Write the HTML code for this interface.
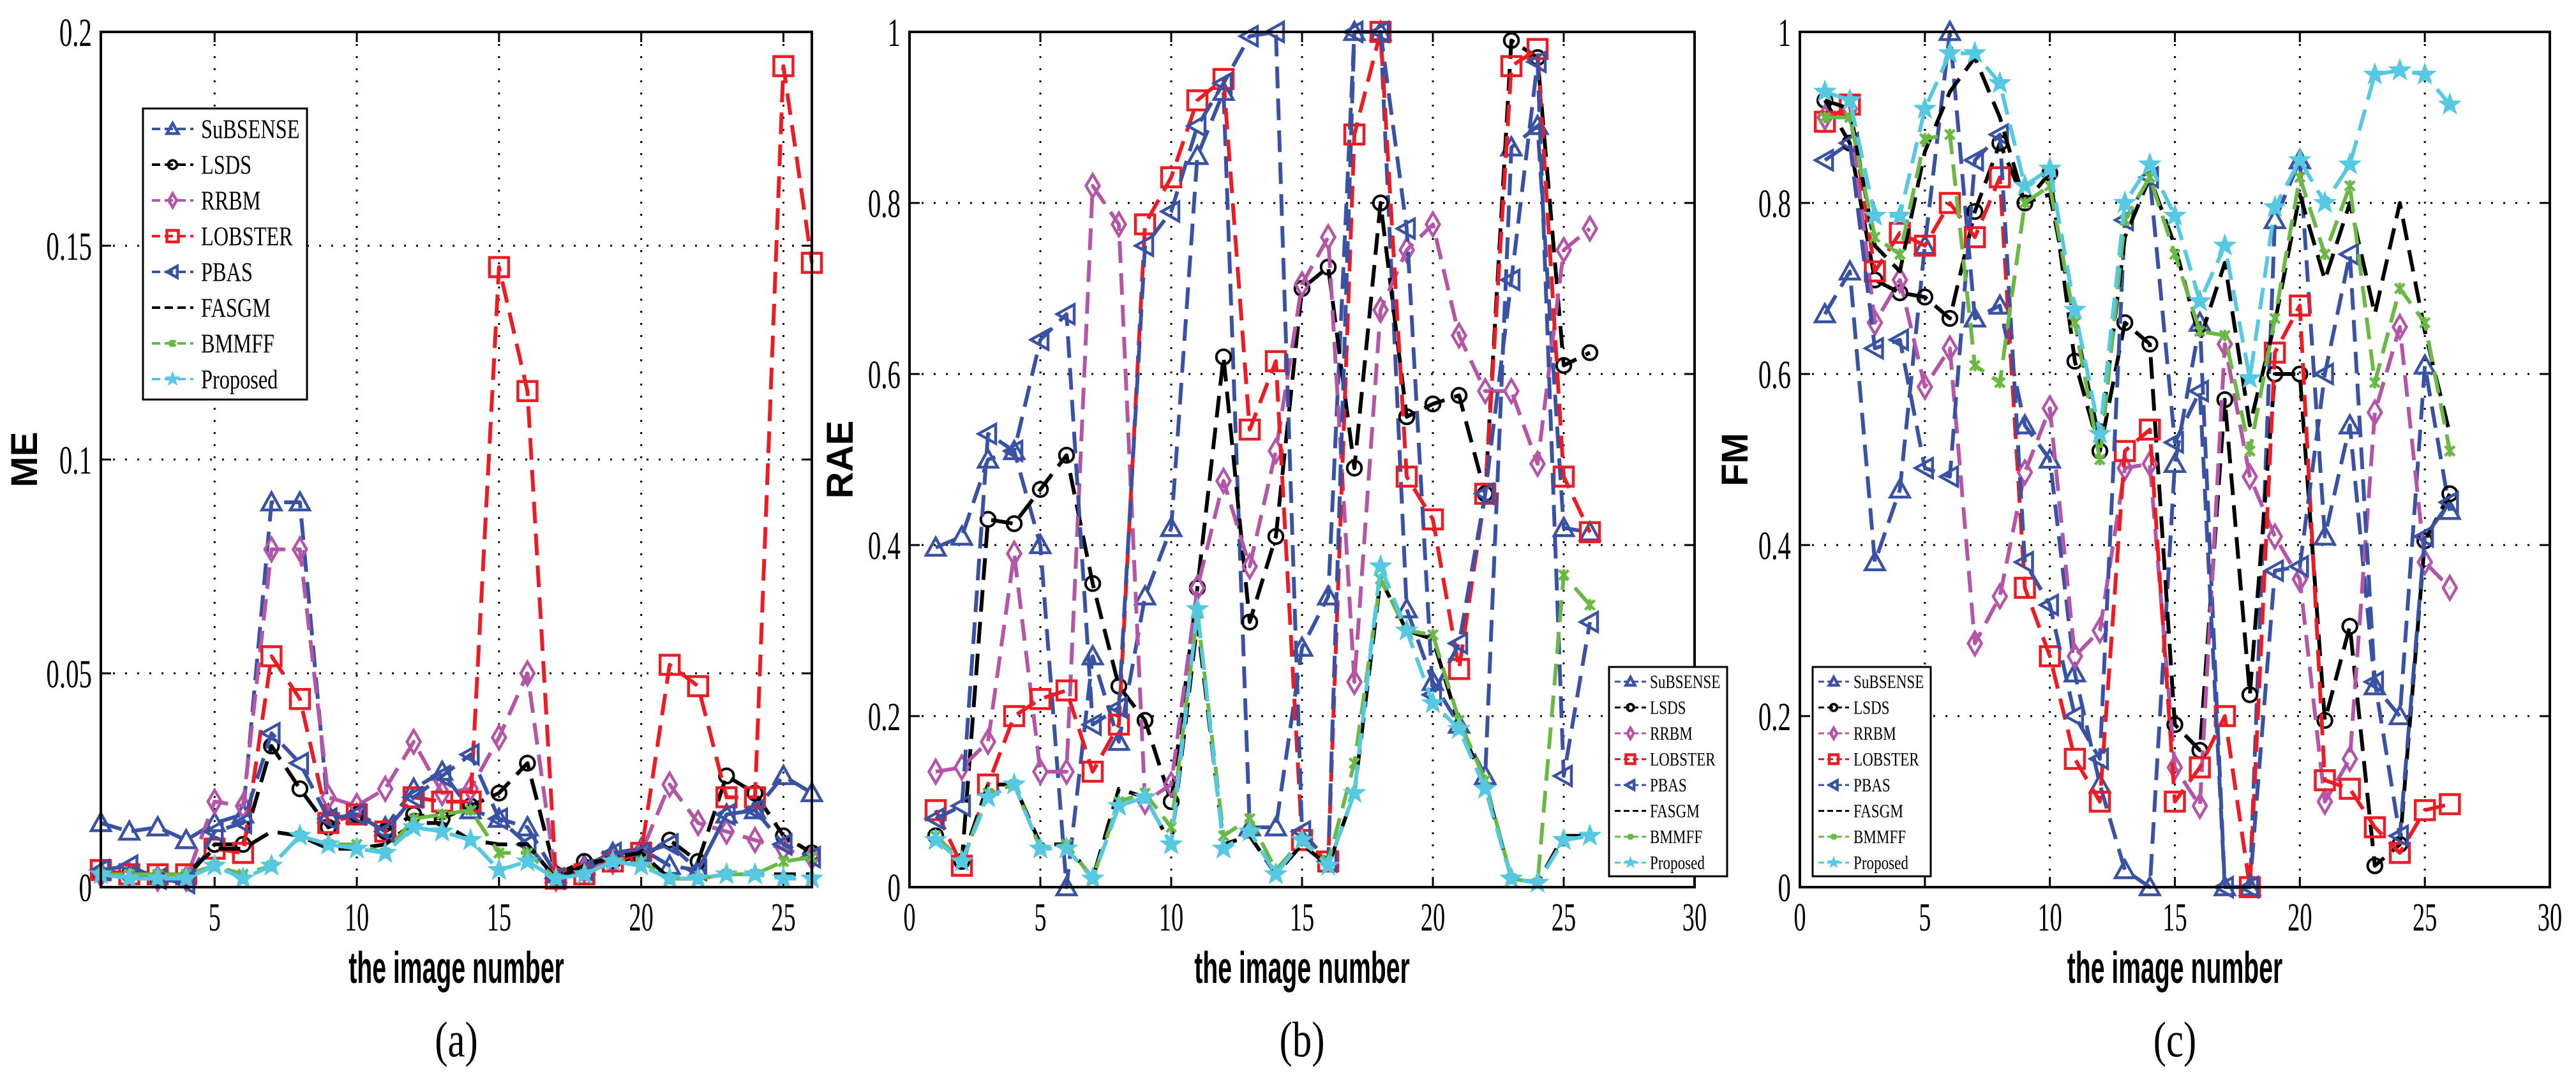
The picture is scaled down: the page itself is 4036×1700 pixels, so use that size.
<!DOCTYPE html>
<html><head><meta charset="utf-8">
<style>
html,body{margin:0;padding:0;background:#fff;}
svg{display:block;}
</style></head>
<body>
<svg id="fig" xmlns="http://www.w3.org/2000/svg" width="4036" height="1700" viewBox="0 0 4036 1700">
<rect x="0" y="0" width="4036" height="1700" fill="#fff"/>
</svg>
<script>
// ---------- data ----------
const imageNumbers = [1,2,3,4,5,6,7,8,9,10,11,12,13,14,15,16,17,18,19,20,21,22,23,24,25,26];
const methodNames = ["SuBSENSE","LSDS","RRBM","LOBSTER","PBAS","FASGM","BMMFF","Proposed"];

// (a) ME
const meSuBSENSE = [0.015,0.013,0.014,0.011,0.015,0.017,0.090,0.090,0.017,0.017,0.014,0.023,0.027,0.018,0.016,0.014,0.003,0.005,0.008,0.009,0.005,0.004,0.017,0.018,0.026,0.022];
const meLSDS     = [0.003,0.003,0.002,0.002,0.010,0.010,0.033,0.023,0.014,0.017,0.013,0.017,0.016,0.019,0.022,0.029,0.003,0.006,0.006,0.007,0.011,0.006,0.026,0.022,0.012,0.008];
const meRRBM     = [0.003,0.003,0.002,0.002,0.020,0.019,0.079,0.079,0.021,0.019,0.023,0.034,0.022,0.023,0.035,0.050,0.002,0.004,0.006,0.008,0.024,0.015,0.013,0.011,0.009,0.007];
const meLOBSTER  = [0.004,0.003,0.003,0.003,0.009,0.008,0.054,0.044,0.015,0.017,0.013,0.021,0.020,0.020,0.145,0.116,0.002,0.003,0.006,0.008,0.052,0.047,0.021,0.021,0.192,0.146];
const mePBAS     = [0.004,0.005,0.002,0.001,0.013,0.015,0.036,0.029,0.016,0.017,0.013,0.021,0.026,0.031,0.016,0.010,0.002,0.004,0.008,0.008,0.010,0.004,0.017,0.018,0.010,0.007];
const meFASGM    = [0.003,0.003,0.003,0.003,0.009,0.009,0.013,0.012,0.009,0.009,0.010,0.015,0.015,0.011,0.010,0.010,0.002,0.005,0.007,0.008,0.002,0.002,0.003,0.003,0.003,0.003];
const meBMMFF    = [0.003,0.003,0.003,0.003,0.005,0.003,0.005,0.012,0.010,0.010,0.008,0.016,0.017,0.018,0.008,0.008,0.002,0.003,0.006,0.006,0.002,0.002,0.003,0.003,0.006,0.007];
const meProposed = [0.003,0.002,0.002,0.002,0.005,0.002,0.005,0.012,0.010,0.009,0.008,0.014,0.013,0.011,0.004,0.006,0.002,0.003,0.006,0.005,0.002,0.002,0.003,0.003,0.002,0.002];

// (b) RAE
const raeSuBSENSE = [0.397,0.41,0.50,0.51,0.40,0.00,0.27,0.17,0.34,0.42,0.855,0.93,0.07,0.07,0.28,0.34,1.0,1.0,0.325,0.24,0.19,0.13,0.865,0.89,0.42,0.415];
const raeLSDS     = [0.06,0.03,0.43,0.425,0.465,0.505,0.355,0.235,0.195,0.10,0.35,0.62,0.31,0.41,0.70,0.725,0.49,0.80,0.55,0.565,0.575,0.46,0.99,0.97,0.61,0.625];
const raeRRBM     = [0.135,0.14,0.17,0.39,0.135,0.135,0.82,0.775,0.10,0.12,0.35,0.475,0.375,0.51,0.705,0.76,0.24,0.675,0.745,0.775,0.645,0.58,0.58,0.495,0.745,0.77];
const raeLOBSTER  = [0.09,0.025,0.12,0.20,0.22,0.23,0.135,0.19,0.775,0.83,0.92,0.945,0.535,0.615,0.055,0.03,0.88,1.0,0.48,0.43,0.255,0.46,0.96,0.98,0.48,0.415];
const raePBAS     = [0.08,0.095,0.53,0.51,0.64,0.67,0.19,0.21,0.75,0.79,0.89,0.94,0.995,1.0,0.065,0.03,1.0,1.0,0.77,0.225,0.285,0.46,0.71,0.965,0.13,0.31];
const raeFASGM    = [0.06,0.03,0.12,0.12,0.05,0.05,0.01,0.115,0.105,0.05,0.31,0.05,0.06,0.015,0.05,0.025,0.11,0.36,0.30,0.29,0.19,0.12,0.01,0.005,0.06,0.06];
const raeBMMFF    = [0.06,0.03,0.11,0.12,0.045,0.05,0.01,0.10,0.11,0.07,0.32,0.06,0.08,0.02,0.055,0.03,0.145,0.36,0.30,0.295,0.195,0.125,0.01,0.005,0.365,0.33];
const raeProposed = [0.055,0.03,0.105,0.12,0.045,0.045,0.01,0.095,0.105,0.05,0.325,0.045,0.065,0.015,0.055,0.025,0.11,0.375,0.30,0.215,0.185,0.115,0.01,0.005,0.055,0.06];

// (c) FM
const fmSuBSENSE = [0.67,0.72,0.38,0.465,0.75,1.0,0.665,0.68,0.54,0.50,0.25,0.12,0.02,0.0,0.495,0.66,0.0,0.0,0.78,0.85,0.41,0.54,0.235,0.20,0.61,0.44];
const fmLSDS     = [0.92,0.87,0.71,0.695,0.69,0.665,0.79,0.87,0.80,0.835,0.615,0.51,0.66,0.635,0.19,0.16,0.57,0.225,0.60,0.60,0.195,0.305,0.025,0.05,0.405,0.46];
const fmRRBM     = [0.90,0.91,0.66,0.71,0.585,0.63,0.285,0.34,0.485,0.56,0.27,0.30,0.49,0.495,0.14,0.095,0.635,0.48,0.41,0.36,0.10,0.15,0.555,0.655,0.38,0.35];
const fmLOBSTER  = [0.895,0.915,0.72,0.765,0.75,0.80,0.76,0.83,0.35,0.27,0.15,0.10,0.51,0.535,0.10,0.14,0.20,0.0,0.625,0.68,0.125,0.115,0.07,0.04,0.09,0.097];
const fmPBAS     = [0.85,0.87,0.63,0.64,0.49,0.48,0.85,0.88,0.38,0.33,0.20,0.15,0.78,0.83,0.52,0.58,0.0,0.0,0.37,0.375,0.60,0.74,0.24,0.06,0.41,0.45];
const fmFASGM    = [0.92,0.91,0.75,0.72,0.86,0.93,0.97,0.90,0.80,0.81,0.66,0.52,0.76,0.83,0.75,0.64,0.73,0.54,0.66,0.81,0.71,0.80,0.67,0.80,0.65,0.53];
const fmBMMFF    = [0.90,0.90,0.76,0.74,0.875,0.88,0.61,0.59,0.80,0.82,0.66,0.50,0.78,0.83,0.74,0.65,0.645,0.51,0.665,0.83,0.74,0.82,0.59,0.70,0.66,0.51];
const fmProposed = [0.93,0.92,0.785,0.785,0.91,0.975,0.975,0.94,0.82,0.84,0.675,0.53,0.80,0.845,0.785,0.685,0.75,0.595,0.795,0.85,0.80,0.845,0.95,0.955,0.95,0.915];

const aYTicks = ["0","0.05","0.1","0.15","0.2"];
const aYTickValues = [0,0.05,0.1,0.15,0.2];
const aXTickValues = [5,10,15,20,25];
const bcYTicks = ["0","0.2","0.4","0.6","0.8","1"];
const bcYTickValues = [0,0.2,0.4,0.6,0.8,1];
const bcXTickValues = [0,5,10,15,20,25,30];

// ---------- drawing ----------
const NS = "http://www.w3.org/2000/svg";
const svg = document.getElementById("fig");
const COLORS = ["#3a52a4","#000000","#b455a8","#ed1c24","#3a52a4","#000000","#6ab945","#55c8e2"];
const MARKERS = ["tri","circ","diam","sq","tril","none","x","star"];

function mk(tag, attrs, parent){
  const e = document.createElementNS(NS, tag);
  for (const k in attrs) e.setAttribute(k, attrs[k]);
  (parent||svg).appendChild(e);
  return e;
}
function txt(s, x, y, size, family, anchor, sx, parent, weight){
  const t = mk("text", {transform:`translate(${x},${y}) scale(${sx},1)`, "font-size":size, "font-family":family, "text-anchor":anchor, fill:"#000", "font-weight":weight||"normal"}, parent);
  t.textContent = s;
  return t;
}
function markerPath(type, x, y, r){
  if (type==="tri") return `M${x},${y-r} L${x+r},${y+r*0.8} L${x-r},${y+r*0.8} Z`;
  if (type==="tril") return `M${x-r},${y} L${x+r*0.8},${y-r} L${x+r*0.8},${y+r} Z`;
  if (type==="diam") return `M${x},${y-r*1.2} L${x+r*0.7},${y} L${x},${y+r*1.2} L${x-r*0.7},${y} Z`;
  if (type==="sq") return `M${x-r},${y-r} h${2*r} v${2*r} h${-2*r} Z`;
  if (type==="x") return `M${x-r*0.5},${y-r*0.5} L${x+r*0.5},${y+r*0.5} M${x-r*0.5},${y+r*0.5} L${x+r*0.5},${y-r*0.5} M${x},${y-r*0.6} L${x},${y+r*0.6}`;
  if (type==="star"){
    let d="";
    for(let i=0;i<10;i++){
      const a=-Math.PI/2+i*Math.PI/5, rr=(i%2===0)?r*1.1:r*0.45;
      d+=(i?"L":"M")+(x+rr*Math.cos(a)).toFixed(1)+","+(y+rr*Math.sin(a)).toFixed(1);
    }
    return d+"Z";
  }
  return "";
}
function drawMarker(type, x, y, r, color, parent){
  if (type==="none") return null;
  if (type==="circ") return mk("circle",{cx:x,cy:y,r:r*0.75,fill:"none",stroke:color,"stroke-width":4},parent);
  if (type==="star") return mk("path",{d:markerPath(type,x,y,r),fill:color,stroke:color,"stroke-width":2},parent);
  return mk("path",{d:markerPath(type,x,y,r),fill:"none",stroke:color,"stroke-width":4.5},parent);
}

function panel(cfg){
  const g = mk("g",{});
  
  
  const {L,R,T,B,xmin,xmax,ymin,ymax} = cfg;
  const sx = v => L + (v-xmin)/(xmax-xmin)*(R-L);
  const sy = v => B - (v-ymin)/(ymax-ymin)*(B-T);
  cfg.xTicks.forEach(v=>{
    const X=sx(v);
    if (v>xmin && v<xmax){
      const gl = mk("line",{x1:X,y1:T,x2:X,y2:B,stroke:"#000","stroke-width":3,"stroke-dasharray":"3 16"},g);
      
      
    }
    mk("line",{x1:X,y1:B,x2:X,y2:B-16,stroke:"#000","stroke-width":3},g);
    mk("line",{x1:X,y1:T,x2:X,y2:T+16,stroke:"#000","stroke-width":3},g);
    const t = txt(String(v), X, 1458, 62, "'Liberation Serif', serif", "middle", 0.62, g);
    
    
  });
  cfg.yTickValues.forEach((v,i)=>{
    const Y=sy(v);
    if (v>ymin && v<ymax){
      const gl = mk("line",{x1:L,y1:Y,x2:R,y2:Y,stroke:"#000","stroke-width":3,"stroke-dasharray":"3 16"},g);
      
      
    }
    mk("line",{x1:L,y1:Y,x2:L+16,y2:Y,stroke:"#000","stroke-width":3},g);
    mk("line",{x1:R,y1:Y,x2:R-16,y2:Y,stroke:"#000","stroke-width":3},g);
    const t = txt(cfg.yTickLabels[i], L-14, Y+22, 62, "'Liberation Serif', serif", "end", 0.66, g);
    
    
  });
  cfg.series.forEach((vals,si)=>{
    const sg = mk("g",{},g);
    
    
    const pts = imageNumbers.map((n,i)=>sx(n).toFixed(1)+","+sy(vals[i]).toFixed(1)).join(" ");
    const ln = mk("polyline",{points:pts,fill:"none",stroke:COLORS[si],"stroke-width":6,"stroke-dasharray":"34 16","stroke-linejoin":"round"},sg);
    
    
    imageNumbers.forEach((n,i)=>{
      const m = drawMarker(MARKERS[si], sx(n), sy(vals[i]), 15, COLORS[si], sg);
      if (m){
        
        
      }
    });
  });
  const fr = mk("rect",{x:L,y:T,width:R-L,height:B-T,fill:"none",stroke:"#000","stroke-width":4},g);
  
  
  const xt = txt("the image number",(L+R)/2,1540,70,"'Liberation Sans', sans-serif","middle",0.56,g,"bold");
  
  
  const yt = mk("text",{transform:`translate(${cfg.ytx},720) rotate(-90)`,"font-size":58,"font-family":"'Liberation Sans', sans-serif","font-weight":"bold","text-anchor":"middle",fill:"#000"},g);
  yt.textContent = cfg.ytitle;
  
  
  const cap = txt(cfg.caption,(L+R)/2,1655,78,"'Liberation Serif', serif","middle",0.78,g);
  
  
  const lg = mk("g",{},g);
  
  
  const Lg = cfg.legend;
  mk("rect",{x:Lg.x,y:Lg.y,width:Lg.w,height:Lg.h,fill:"#fff",stroke:"#000","stroke-width":3},lg);
  methodNames.forEach((nm,i)=>{
    const cy = Lg.row0 + i*Lg.dy;
    const e = mk("g",{},lg);
    
    
    mk("line",{x1:Lg.lx1,y1:cy,x2:Lg.lx2,y2:cy,stroke:COLORS[i],"stroke-width":Lg.sw,"stroke-dasharray":Lg.dash},e);
    drawMarker(MARKERS[i],(Lg.lx1+Lg.lx2)/2,cy,Lg.mr,COLORS[i],e);
    txt(nm,Lg.tx,cy+Lg.fs*0.34,Lg.fs,"'Liberation Serif', serif","start",0.77,e);
  });
}

panel({name:"me-chart",L:158,R:1272,T:50,B:1390,xmin:1,xmax:26,ymin:0,ymax:0.2,
  xTicks:aXTickValues,yTickValues:aYTickValues,yTickLabels:aYTicks,
  series:[meSuBSENSE,meLSDS,meRRBM,meLOBSTER,mePBAS,meFASGM,meBMMFF,meProposed],
  ytitle:"ME",ytx:58,caption:"(a)",
  legend:{x:224,y:170,w:257,h:456,row0:202,dy:56,lx1:238,lx2:303,tx:315,fs:42,sw:4,dash:"13 7",mr:9}});
panel({name:"rae-chart",L:1425,R:2655,T:50,B:1390,xmin:0,xmax:30,ymin:0,ymax:1,
  xTicks:bcXTickValues,yTickValues:bcYTickValues,yTickLabels:bcYTicks,
  series:[raeSuBSENSE,raeLSDS,raeRRBM,raeLOBSTER,raePBAS,raeFASGM,raeBMMFF,raeProposed],
  ytitle:"RAE",ytx:1336,caption:"(b)",
  legend:{x:2521,y:1045,w:185,h:328,row0:1068,dy:40.5,lx1:2530,lx2:2579,tx:2585,fs:30,sw:3,dash:"9 5",mr:7}});
panel({name:"fm-chart",L:2820,R:3995,T:50,B:1390,xmin:0,xmax:30,ymin:0,ymax:1,
  xTicks:bcXTickValues,yTickValues:bcYTickValues,yTickLabels:bcYTicks,
  series:[fmSuBSENSE,fmLSDS,fmRRBM,fmLOBSTER,fmPBAS,fmFASGM,fmBMMFF,fmProposed],
  ytitle:"FM",ytx:2738,caption:"(c)",
  legend:{x:2840,y:1045,w:185,h:328,row0:1068,dy:40.5,lx1:2849,lx2:2897,tx:2904,fs:30,sw:3,dash:"9 5",mr:7}});
</script>
</body></html>
